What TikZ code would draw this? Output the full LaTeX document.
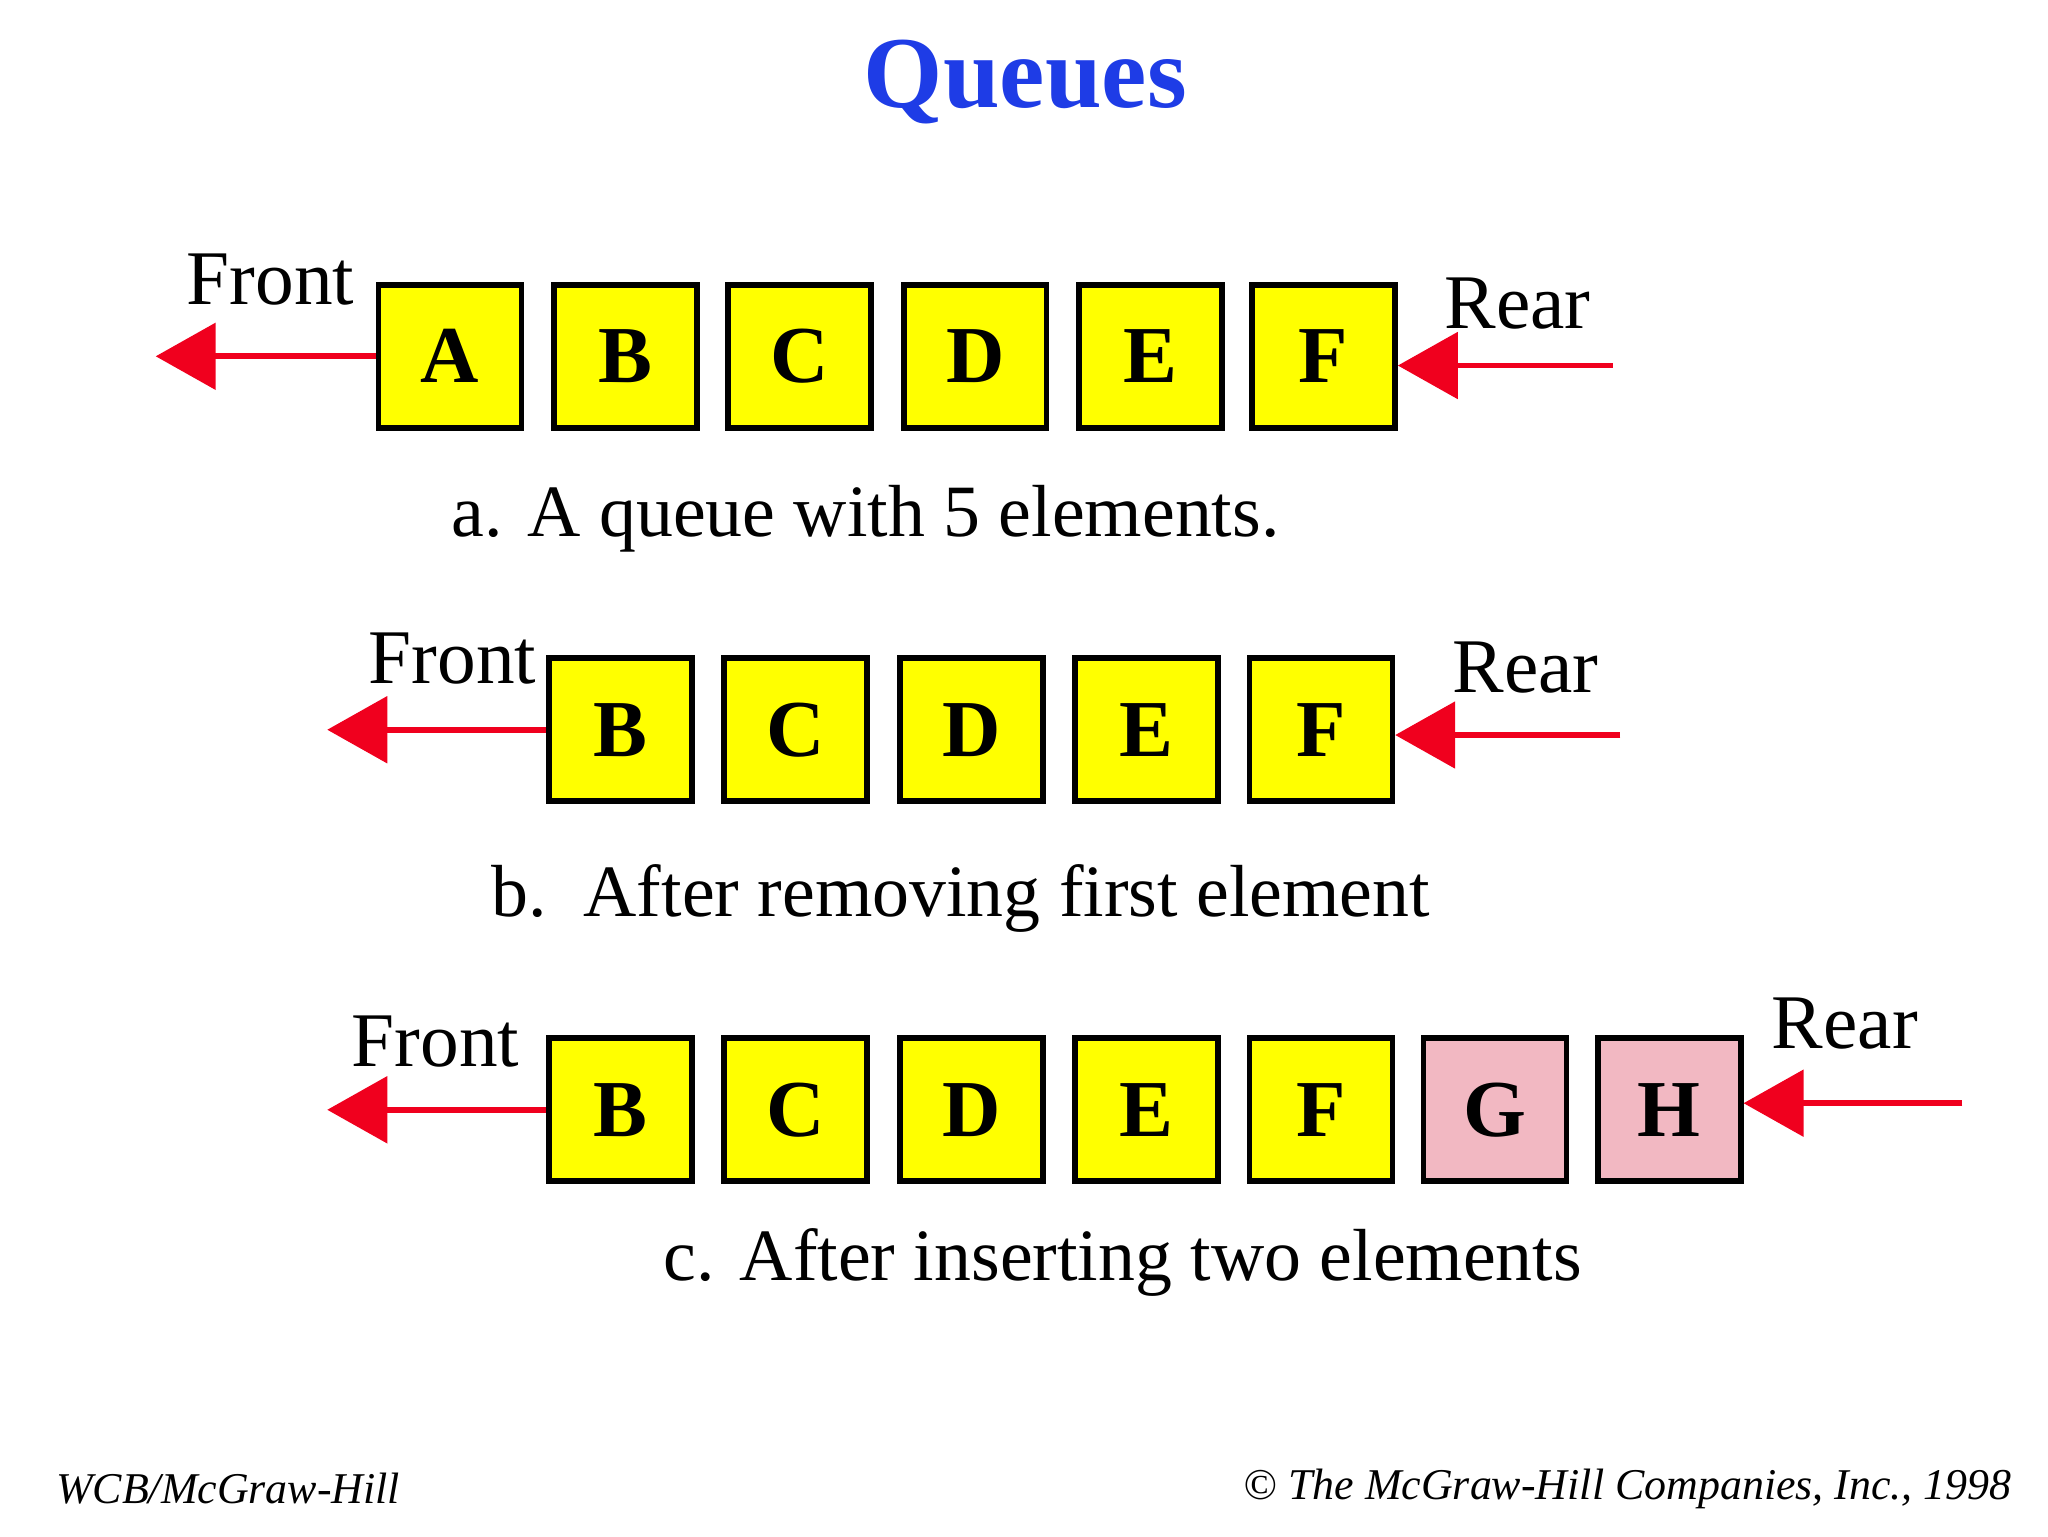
\documentclass[tikz,border=0pt]{standalone}
\usepackage{fontspec}
\setmainfont{Liberation Serif}
\usetikzlibrary{arrows.meta}
\definecolor{qyel}{HTML}{FFFF00}
\definecolor{qpink}{HTML}{F2B8C2}
\definecolor{qred}{HTML}{F0001E}
\definecolor{qblue}{HTML}{1E3CE6}
\begin{document}
\begin{tikzpicture}[x=0.013196cm,y=-0.013196cm,
  qbox/.style={draw=black,line width=1.6pt,minimum width=1.43cm,minimum height=1.43cm,inner sep=0pt,font=\fontsize{23}{26}\selectfont\bfseries,fill=qyel},
  pbox/.style={qbox,fill=qpink},
  qarr/.style={draw=qred,line width=1.6pt,-{Triangle[length=0.6cm,width=0.66cm]}},
  lab/.style={font=\fontsize{22}{26}\selectfont,inner sep=0pt},
  captxt/.style={font=\fontsize{21}{25}\selectfont,inner sep=0pt}]
\useasboundingbox (0,0) rectangle (1552,1164);
\node[font=\fontsize{29}{32}\selectfont\bfseries,text=qblue] (title) at (777,62) {Queues};
% row a
\foreach \l/\x in {A/341,B/474,C/606,D/739,E/872,F/1003}
  \node[qbox] (a\l) at (\x,270) {\l};
\coordinate (afe) at (118,270);
\coordinate (are) at (1222,277);
\draw[qarr] (aA.west) -- (afe);
\draw[qarr] (are) -- (aF.east |- are);
\node[lab] (afront) at (205,212) {Front};
\node[lab] (arear) at (1150,230) {Rear};
\node[captxt] (acap) at (656,393) {a. A queue with 5 elements.};
% row b
\foreach \l/\x in {B/470,C/603,D/736,E/869,F/1001}
  \node[qbox] (b\l) at (\x,553) {\l};
\coordinate (bfe) at (248,553);
\coordinate (bre) at (1228,557);
\draw[qarr] (bB.west) -- (bfe);
\draw[qarr] (bre) -- (bF.east |- bre);
\node[lab] (bfront) at (343,499) {Front};
\node[lab] (brear) at (1156,506) {Rear};
\node[captxt] (bcap) at (728,681) {b.\ \ After removing first element};
% row c
\foreach \l/\x in {B/470,C/603,D/736,E/869,F/1001}
  \node[qbox] (c\l) at (\x,841) {\l};
\node[pbox] (cG) at (1133,841) {G};
\node[pbox] (cH) at (1265,841) {H};
\coordinate (cfe) at (248,841);
\coordinate (cre) at (1487,836);
\draw[qarr] (cB.west) -- (cfe);
\draw[qarr] (cre) -- (cH.east |- cre);
\node[lab] (cfront) at (330,789) {Front};
\node[lab] (crear) at (1398,776) {Rear};
\node[captxt] (ccap) at (851,957) {c. After inserting two elements};
% footer
\node[font=\fontsize{12.5}{15}\selectfont\itshape,anchor=west,inner sep=0pt] (fl) at (42,1128) {WCB/McGraw-Hill};
\node[font=\fontsize{12.5}{15}\selectfont\itshape,anchor=east,inner sep=0pt] (fr) at (1525,1128) {\char"00A9\ The McGraw-Hill Companies, Inc., 1998};
\end{tikzpicture}
\end{document}
